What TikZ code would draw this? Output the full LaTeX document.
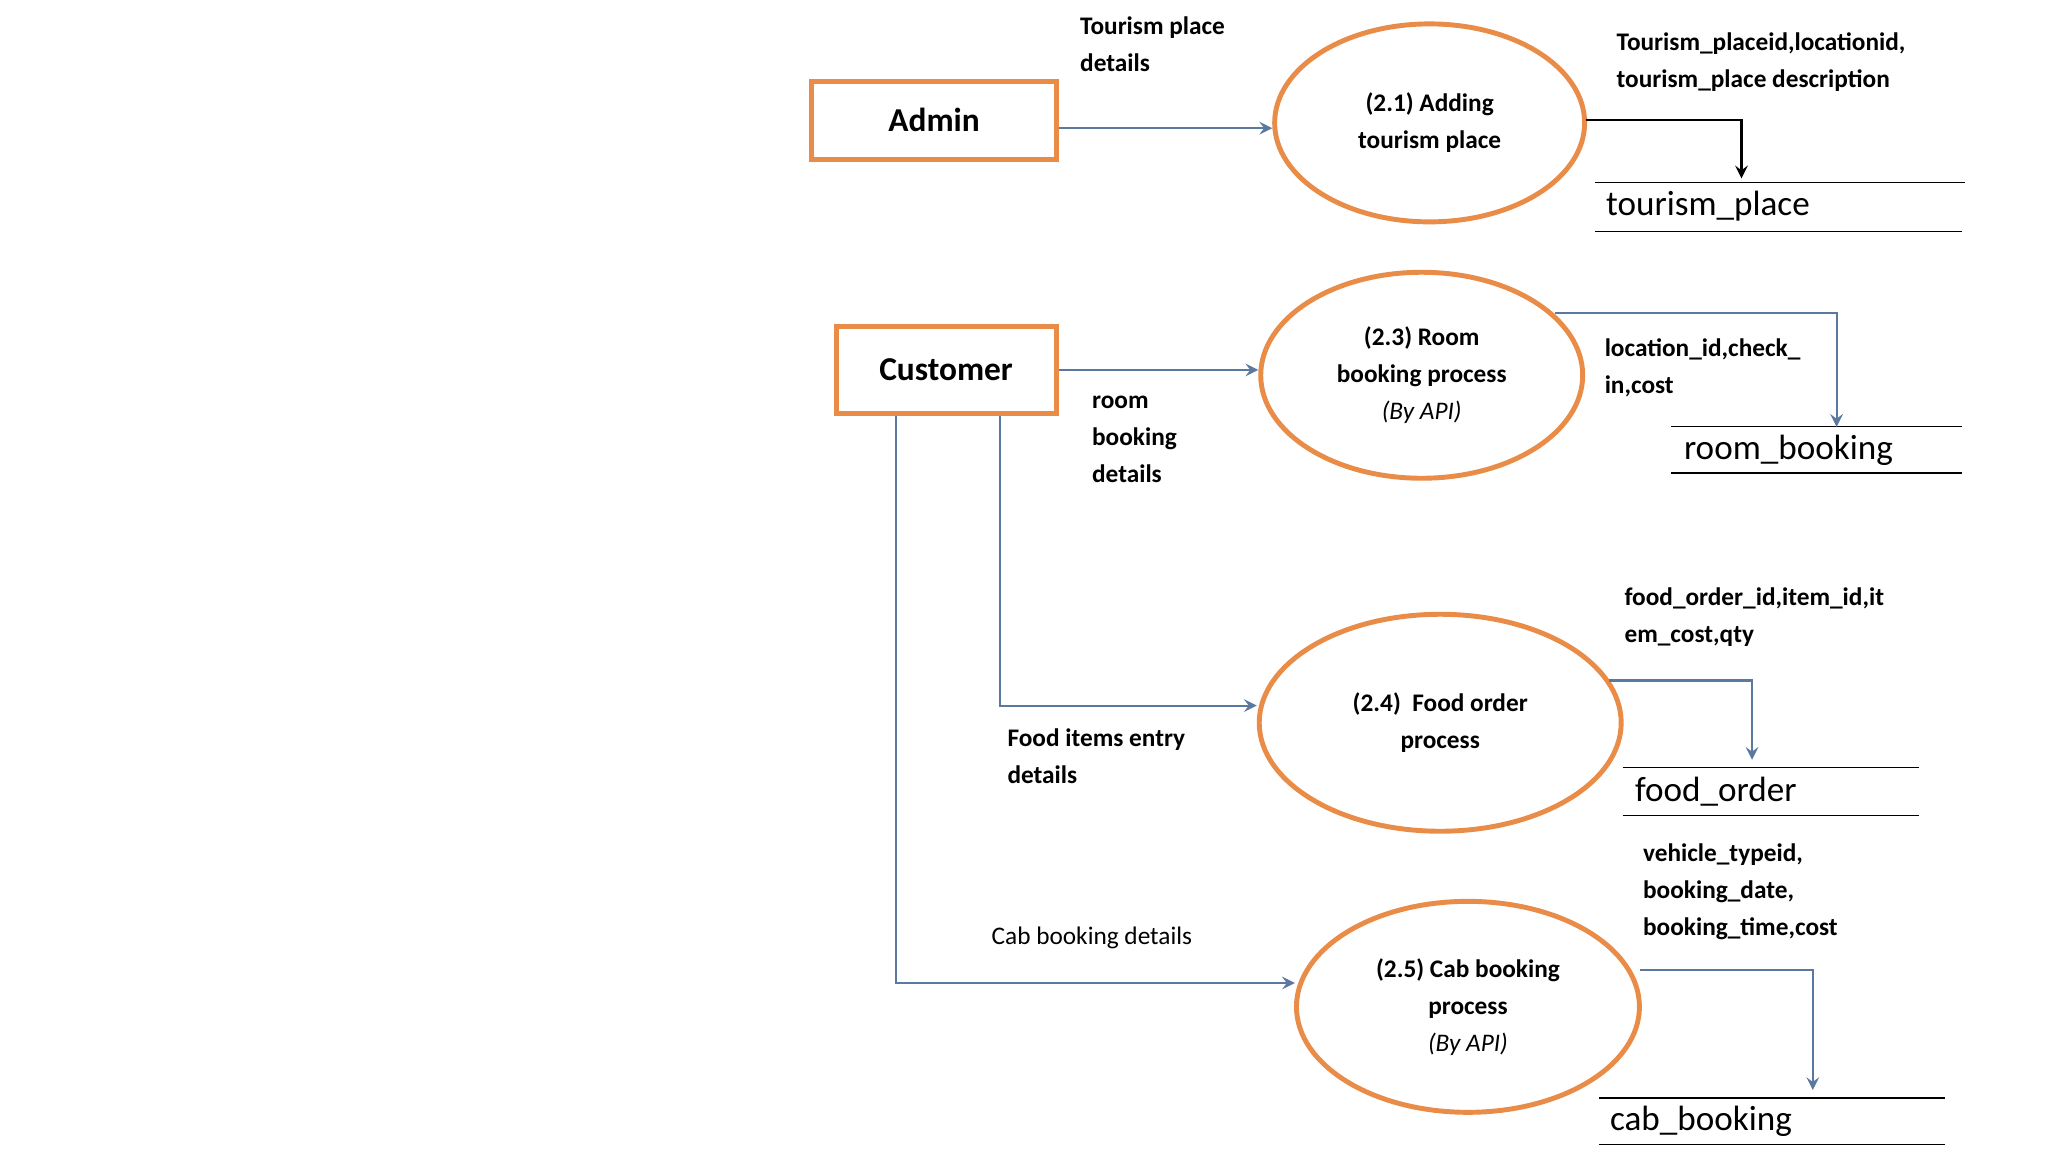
\documentclass[tikz,border=0pt]{standalone}
\usepackage{fontspec}
\setmainfont{Carlito}
\usetikzlibrary{positioning,calc,shapes.geometric}
\definecolor{dfdorange}{RGB}{232,140,72}
\definecolor{dfdblue}{RGB}{90,120,160}
\tikzset{
  entity/.style={draw=dfdorange, line width=1.4pt, minimum height=0.78cm, font=\fontsize{9.5}{11}\selectfont\bfseries},
  process/.style={ellipse, draw=dfdorange, line width=1.4pt, align=center, font=\fontsize{7.2}{10.5}\selectfont\bfseries},
  flow/.style={draw=dfdblue, line width=0.6pt, -stealth},
  lbl/.style={align=left, anchor=north west, inner sep=0pt, font=\fontsize{7.2}{10.5}\selectfont\bfseries},
  store/.style={anchor=west, inner sep=0pt, font=\fontsize{10}{12}\selectfont}
}
\begin{document}
\begin{tikzpicture}[x=0.01321cm, y=-0.01321cm]
		\useasboundingbox (0,0) rectangle (1550,872);

		% external entities
		\node[entity, minimum width=2.45cm, minimum height=0.78cm] (admin) at (707,91) {Admin};
		\node[entity, minimum width=2.2cm, minimum height=0.87cm] (customer) at (716,280) {Customer};

		% processes
		\node[process, minimum width=3.1cm, minimum height=1.98cm] (p21) at (1082,93) {(2.1) Adding\\tourism place};
		\node[process, minimum width=3.22cm, minimum height=2.06cm] (p23) at (1076,284) {(2.3) Room\\booking process\\{\mdseries\itshape (By API)}};
		\node[process, minimum width=3.62cm, minimum height=2.17cm] (p24) at (1090,547) {(2.4)~~Food order\\process};
		\node[process, minimum width=3.43cm, minimum height=2.11cm] (p25) at (1111,762) {(2.5) Cab booking\\process\\{\mdseries\itshape (By API)}};

		% data stores
		\draw (1207,138) -- (1487,138) (1207,175) -- (1485,175);
		\node[store] (s1) at (1215,156) {tourism\_place};
		\draw (1265,323) -- (1485,323) (1265,358) -- (1485,358);
		\node[store] (s2) at (1274,341) {room\_booking};
		\draw (1228,581) -- (1452,581) (1228,617) -- (1452,617);
		\node[store] (s3) at (1237,599) {food\_order};
		\draw (1210,831) -- (1472,831) (1210,866) -- (1472,866);
		\node[store] (s4) at (1218,849) {cab\_booking};

		% inputs
		\draw[flow] (admin.east |- 0,97) -- (p21.west |- 0,97);
		\draw[flow] (customer.east |- 0,280) -- (p23.west |- 0,280);
		\coordinate (c1) at (757,534);
		\draw[flow] (customer.south -| c1) -- (c1) -- (p24.west |- c1);
		\coordinate (c2) at (678,744);
		\draw[flow] (customer.south -| c2) -- (c2) -- (980,744);

		% outputs to stores
		\coordinate (o1) at (1318,91);
		\draw[black, line width=0.6pt, -stealth] (1200,91) -- (o1) -- (1318,135);
		\coordinate (o2) at (1390,237);
		\draw[flow] (1177,237) -- (o2) -- (1390,323);
		\coordinate (o3) at (1326,515);
		\draw[flow] (1218,515) -- (o3) -- (1326,575);
		\coordinate (o4) at (1372,734);
		\draw[flow] (1241,734) -- (o4) -- (1372,825);

		% flow labels
		\node[lbl] (l1) at (817,12) {Tourism place\\details};
		\node[lbl] (l2) at (1223,24) {Tourism\_placeid,locationid,\\tourism\_place description};
		\node[lbl] (l3) at (826,299) {room\\booking\\details};
		\node[lbl] (l4) at (1214,256) {location\_id,check\_\\in,cost};
		\node[lbl] (l5) at (1229,444) {food\_order\_id,item\_id,it\\em\_cost,qty};
		\node[lbl] (l6) at (762,551) {Food items entry\\details};
		\node[lbl] (l7) at (1243,638) {vehicle\_typeid,\\booking\_date,\\booking\_time,cost};
		\node[lbl, font=\fontsize{7.2}{10.5}\selectfont] (l8) at (750,701) {Cab booking details};
\end{tikzpicture}
\end{document}
